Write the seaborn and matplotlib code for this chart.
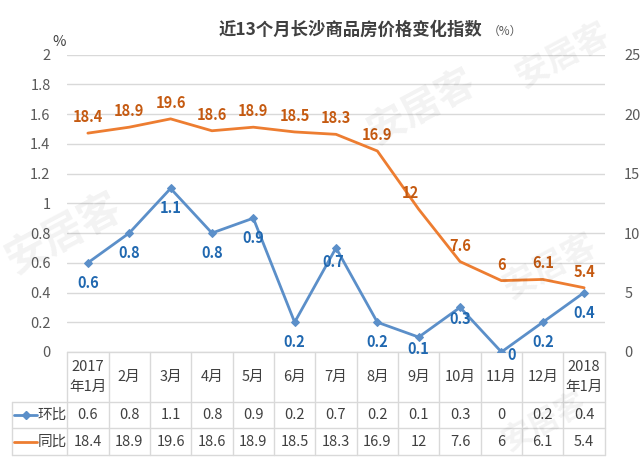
import matplotlib.pyplot as plt
import matplotlib.transforms as mtransforms
import pandas as pd
import seaborn as sns
from matplotlib.lines import Line2D

MONTHS = ["2017\n年1月", "2月", "3月", "4月", "5月", "6月", "7月",
          "8月", "9月", "10月", "11月", "12月", "2018\n年1月"]
HUANBI = [0.6, 0.8, 1.1, 0.8, 0.9, 0.2, 0.7, 0.2, 0.1, 0.3, 0, 0.2, 0.4]
TONGBI = [18.4, 18.9, 19.6, 18.6, 18.9, 18.5, 18.3, 16.9, 12, 7.6, 6, 6.1, 5.4]

BLUE = "#5B8FC9"
BLUE_TXT = "#2068B0"
ORANGE = "#ED7D31"
ORANGE_TXT = "#C55A11"
GRID = "#D9D9D9"
TXT = "#404040"

sns.set_theme(style="white")
plt.rcParams["font.family"] = ["Noto Sans CJK SC", "DejaVu Sans"]

df = pd.DataFrame({"idx": range(len(MONTHS)), "环比": HUANBI, "同比": TONGBI})

fig = plt.figure(figsize=(6.4, 4.69), dpi=100)
ax = fig.add_axes([0.105, 0.2495, 0.84, 0.634])
ax2 = ax.twinx()

sns.lineplot(data=df, x="idx", y="环比", ax=ax, color=BLUE, linewidth=2,
             marker="D", markersize=4.5, markeredgecolor=BLUE, zorder=5)
sns.lineplot(data=df, x="idx", y="同比", ax=ax2, color=ORANGE, linewidth=2,
             zorder=4)

ax.set_xlim(-0.5, len(MONTHS) - 0.5)
ax.set_ylim(0, 2)
ax2.set_ylim(0, 25)
ax.set_yticks([i / 5 for i in range(11)])
ax.set_yticklabels(["0", "0.2", "0.4", "0.6", "0.8", "1", "1.2", "1.4",
                    "1.6", "1.8", "2"])
ax2.set_yticks(range(0, 26, 5))
ax.yaxis.grid(True, color=GRID, linewidth=1)
ax.set_xticks([])
ax.set_xlabel("")
ax.set_ylabel("")
ax2.set_ylabel("")
for a in (ax, ax2):
    for s in a.spines.values():
        s.set_visible(False)
    a.tick_params(axis="y", length=0, labelsize=10.5, labelcolor="#595959")
ax.tick_params(axis="y", pad=12)
ax2.tick_params(axis="y", pad=14)

# data labels
for i, v in enumerate(HUANBI):
    dx, dy = 0, -20
    if i == 6:
        dx, dy = -3, -14
    if i in (8, 9):
        dy = -12
    if i == 10:
        dx, dy = 10, -3
    ax.annotate(f"{v:g}", (i, v), xytext=(dx, dy), textcoords="offset pixels",
                ha="center", va="center", fontsize=10.5, fontweight="bold",
                color=BLUE_TXT, zorder=6)
for i, v in enumerate(TONGBI):
    dx = -8 if i == 8 else 0
    ax2.annotate(f"{v:g}", (i, v), xytext=(dx, 16), textcoords="offset pixels",
                 ha="center", va="center", fontsize=10.5, fontweight="bold",
                 color=ORANGE_TXT, zorder=6)

# data table below the plot (x in data units, y in axes fraction)
tr = mtransforms.blended_transform_factory(ax.transData, ax.transAxes)
n = len(MONTHS)
y_top, y_h, y_r1, y_r2 = 0, -0.168, -0.256, -0.347
x_left = -1.83
lk = dict(color=GRID, linewidth=1, transform=tr, clip_on=False)
ax.add_line(Line2D([-0.5, n - 0.5], [y_top, y_top], **lk))
for y in (y_h, y_r1, y_r2):
    ax.add_line(Line2D([x_left, n - 0.5], [y, y], **lk))
ax.add_line(Line2D([x_left, x_left], [y_h, y_r2], **lk))
for k in range(n + 1):
    ax.add_line(Line2D([k - 0.5, k - 0.5], [y_top, y_r2], **lk))

for i, m in enumerate(MONTHS):
    ax.text(i, (y_top + y_h) / 2, m, transform=tr, ha="center", va="center",
            fontsize=10.5, color=TXT, linespacing=1.5)
    ax.text(i, (y_h + y_r1) / 2, f"{HUANBI[i]:g}", transform=tr, ha="center",
            va="center", fontsize=10.5, color=TXT)
    ax.text(i, (y_r1 + y_r2) / 2, f"{TONGBI[i]:g}", transform=tr, ha="center",
            va="center", fontsize=10.5, color=TXT)

# legend keys in the table
for y, name, col, mk in (((y_h + y_r1) / 2, "环比", BLUE, "D"),
                          ((y_r1 + y_r2) / 2, "同比", ORANGE, None)):
    ax.add_line(Line2D([x_left + 0.05, x_left + 0.6], [y, y], color=col,
                       linewidth=2, transform=tr, clip_on=False))
    if mk:
        ax.add_line(Line2D([x_left + 0.33], [y], marker="D", markersize=4,
                           color=col, transform=tr, clip_on=False))
    ax.text(x_left + 0.62, y, name, transform=tr, ha="left", va="center",
            fontsize=10.5, color=TXT)

# titles
fig.text(0.548, 0.936, "近13个月长沙商品房价格变化指数", ha="center", va="center",
         fontsize=12.5, fontweight="bold", color="#404040")
fig.text(0.762, 0.934, "（%）", ha="left", va="center", fontsize=8.5,
         color="#595959")
fig.text(0.092, 0.91, "%", ha="center", va="center", fontsize=10.5, color=TXT)

# faint watermarks
for (x, y, s) in ((0.1, 0.50, 30), (0.66, 0.77, 28), (0.88, 0.88, 24),
                  (0.85, 0.1, 22), (0.86, 0.43, 24)):
    fig.text(x, y, "安居客", ha="center", va="center", fontsize=s,
             fontweight="bold", color="#000000", alpha=0.05, rotation=28)

fig.savefig("out.png", dpi=100)
